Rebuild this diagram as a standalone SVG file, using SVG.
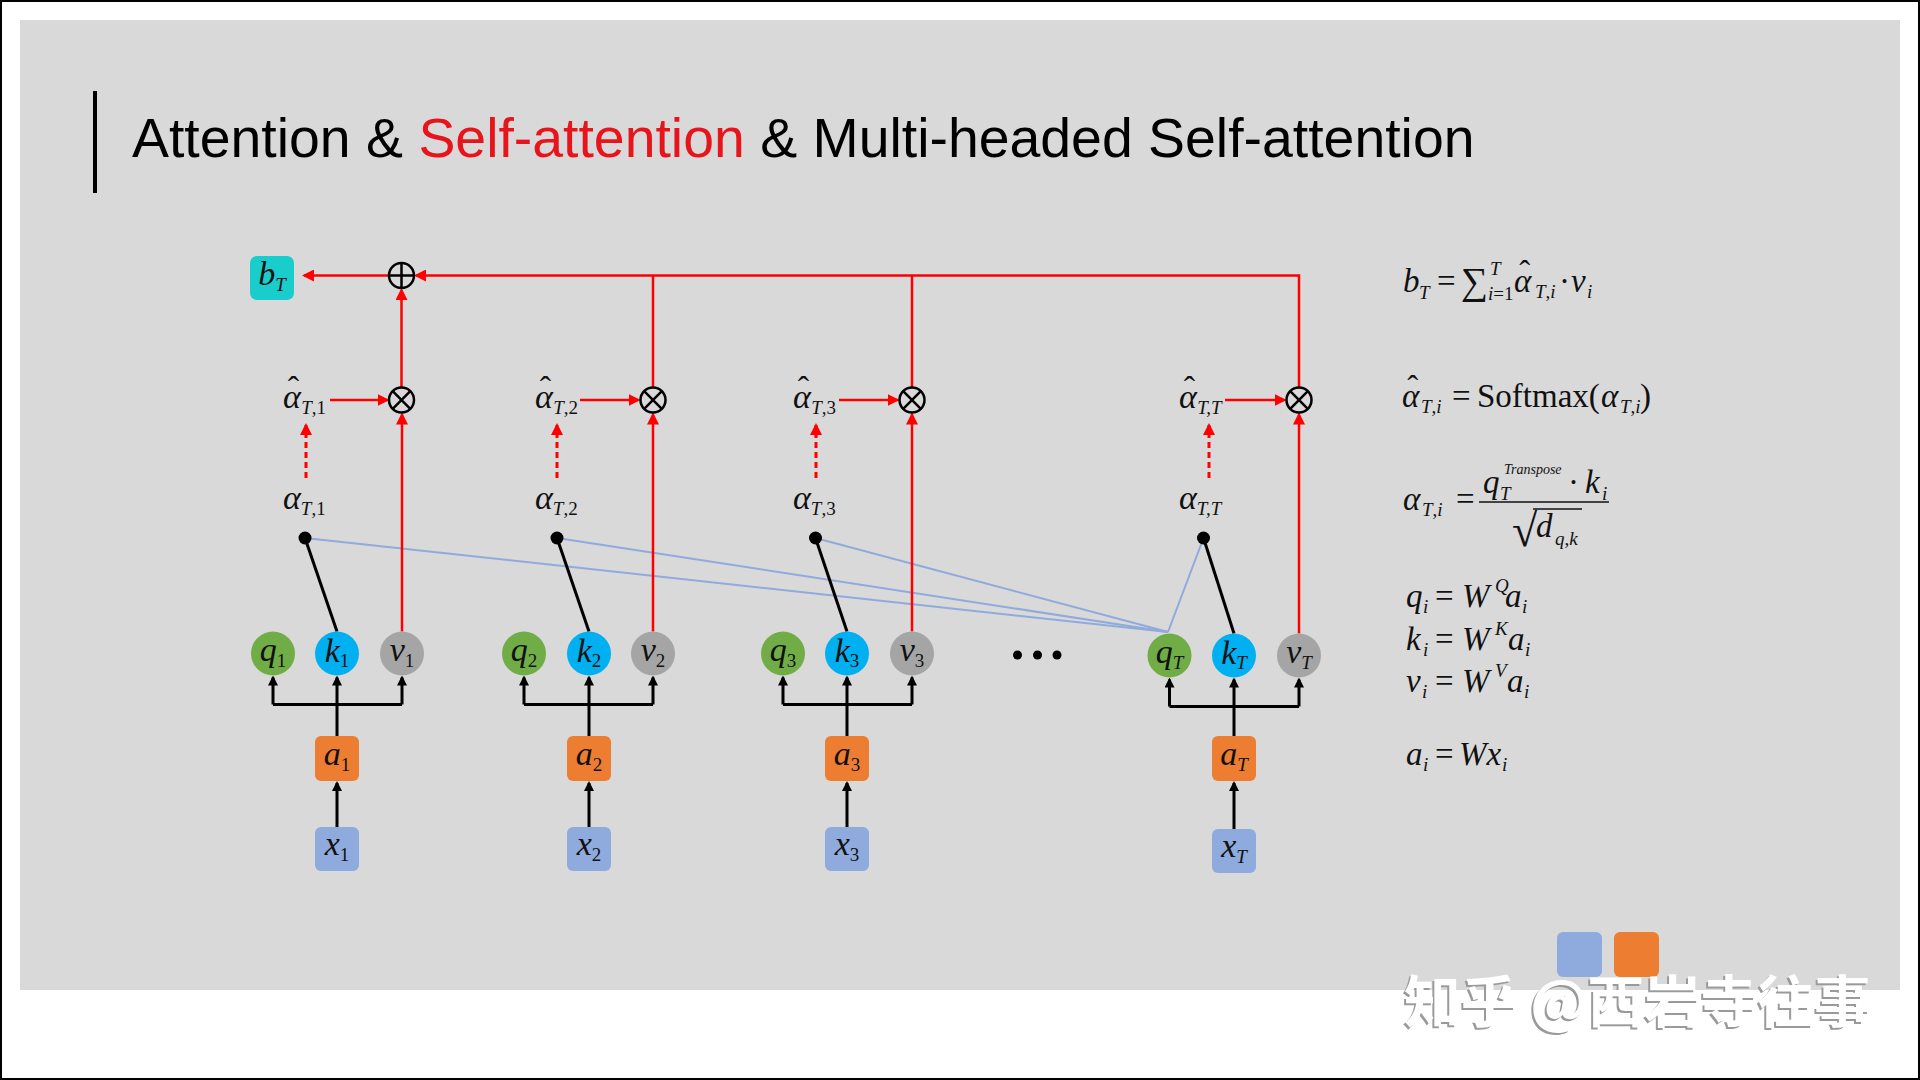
<svg xmlns="http://www.w3.org/2000/svg" width="1920" height="1080" viewBox="0 0 1920 1080">
<style>
.ttl{font-family:"Liberation Sans",Arial,sans-serif;font-size:55.4px;fill:#000}
.red{fill:#e8141b}
.v{font-family:"Liberation Serif","Times New Roman",serif;font-style:italic;font-size:34px;fill:#111}
.al{font-family:"Liberation Serif","Times New Roman",serif;font-style:italic;font-size:34px;fill:#111}
.sb{font-size:19px}
.ssb{font-size:19px}
.up{font-style:normal}
.eq{font-family:"Liberation Serif","Times New Roman",serif;font-style:italic;font-size:33px;fill:#111}
.lk{stroke:#000;stroke-width:3;fill:none}
.lr{stroke:#f00;stroke-width:2.5;fill:none}
.ld{stroke:#f00;stroke-width:3;fill:none;stroke-dasharray:6 4}
.lb{stroke:#8faadc;stroke-width:2;fill:none}
.op{fill:none;stroke:#000;stroke-width:2.5}
.cq{fill:#70ad47}.ck{fill:#00b0f0}.cv{fill:#a5a5a5}
.ba{fill:#ed7d31}.bx{fill:#8faadc}
.wm{font-family:"Noto Sans CJK SC","Noto Sans",sans-serif;font-size:56px;font-weight:bold}
</style>
<defs>
<marker id="ak" markerUnits="userSpaceOnUse" markerWidth="10" markerHeight="10" refX="8" refY="5" orient="auto"><path d="M0,0 L10,5 L0,10 z" fill="#000"/></marker>
<marker id="ar" markerUnits="userSpaceOnUse" markerWidth="12" markerHeight="12" refX="10" refY="6" orient="auto"><path d="M0,0 L12,6 L0,12 z" fill="#f00"/></marker>
</defs>
<rect x="0" y="0" width="1920" height="1080" fill="#fff"/>
<rect x="20" y="20" width="1880" height="970" fill="#d9d9d9"/>
<rect x="1" y="1" width="1918" height="1078" fill="none" stroke="#000" stroke-width="2"/>

<g id="title">
<rect x="93" y="91" width="4" height="102" fill="#000"/>
<text class="ttl" x="132" y="157">Attention &amp; <tspan class="red">Self-attention</tspan> &amp; Multi-headed Self-attention</text>
</g>

<g id="connectors">
<path class="lb" d="M1168,632 L305,538"/>
<path class="lb" d="M1168,632 L557,538"/>
<path class="lb" d="M1168,632 L815.5,538"/>
<path class="lb" d="M1168,632 L1203.5,538"/>
<path class="lk" d="M305,538 L337,631.5" stroke-width="2.5"/>
<path class="lk" d="M557,538 L589,631.5" stroke-width="2.5"/>
<path class="lk" d="M815.5,538 L847,631.5" stroke-width="2.5"/>
<path class="lk" d="M1203.5,538 L1234,633.5" stroke-width="2.5"/>
<path class="lk" d="M337,827 V783" marker-end="url(#ak)"/>
<path class="lk" d="M337,736 V677.5" marker-end="url(#ak)"/>
<path class="lk" d="M273,704.5 H402"/>
<path class="lk" d="M273,704.5 V677.5" marker-end="url(#ak)"/>
<path class="lk" d="M402,704.5 V677.5" marker-end="url(#ak)"/>
<path class="lk" d="M589,827 V783" marker-end="url(#ak)"/>
<path class="lk" d="M589,736 V677.5" marker-end="url(#ak)"/>
<path class="lk" d="M524,704.5 H653"/>
<path class="lk" d="M524,704.5 V677.5" marker-end="url(#ak)"/>
<path class="lk" d="M653,704.5 V677.5" marker-end="url(#ak)"/>
<path class="lk" d="M847,827 V783" marker-end="url(#ak)"/>
<path class="lk" d="M847,736 V677.5" marker-end="url(#ak)"/>
<path class="lk" d="M783,704.5 H912"/>
<path class="lk" d="M783,704.5 V677.5" marker-end="url(#ak)"/>
<path class="lk" d="M912,704.5 V677.5" marker-end="url(#ak)"/>
<path class="lk" d="M1234,829 V783" marker-end="url(#ak)"/>
<path class="lk" d="M1234,736 V679.5" marker-end="url(#ak)"/>
<path class="lk" d="M1169.5,706.5 H1299"/>
<path class="lk" d="M1169.5,706.5 V679.5" marker-end="url(#ak)"/>
<path class="lk" d="M1299,706.5 V679.5" marker-end="url(#ak)"/>
<path class="lr" d="M402,631.5 V414.5" marker-end="url(#ar)"/>
<path class="lr" d="M653,631.5 V414.5" marker-end="url(#ar)"/>
<path class="lr" d="M912,631.5 V414.5" marker-end="url(#ar)"/>
<path class="lr" d="M1299,633.5 V414.5" marker-end="url(#ar)"/>
<path class="lr" d="M330,400 H387.5" marker-end="url(#ar)"/>
<path class="lr" d="M580,400 H638.5" marker-end="url(#ar)"/>
<path class="lr" d="M839,400 H897.5" marker-end="url(#ar)"/>
<path class="lr" d="M1225,400 H1284.5" marker-end="url(#ar)"/>
<path class="ld" d="M306,478 V425" marker-end="url(#ar)"/>
<path class="ld" d="M557,478 V425" marker-end="url(#ar)"/>
<path class="ld" d="M816,478 V425" marker-end="url(#ar)"/>
<path class="ld" d="M1209,478 V425" marker-end="url(#ar)"/>
<path class="lr" d="M401.5,387.5 V290" marker-end="url(#ar)"/>
<path class="lr" d="M653,387.5 V275.5"/>
<path class="lr" d="M912,387.5 V275.5"/>
<path class="lr" d="M1299,387.5 V275.5 H416" marker-end="url(#ar)"/>
<path class="lr" d="M389,275.5 H304" marker-end="url(#ar)"/>
</g>

<g id="bT">
<rect x="250" y="256" width="44" height="44" rx="7" fill="#19cdcd"/>
<text class="v" x="272" y="285" text-anchor="middle">b<tspan class="sb" dy="6">T</tspan></text>
</g>
<g id="sum"><circle class="op" cx="401.5" cy="275.5" r="12.5"/><path class="op" d="M389,275.5 H414 M401.5,263 V288"/></g>
<g id="mul1"><circle class="op" cx="401.5" cy="400" r="12.5"/><path class="op" d="M392.7,391.2 L410.3,408.8 M410.3,391.2 L392.7,408.8"/></g>
<g id="mul2"><circle class="op" cx="653" cy="400" r="12.5"/><path class="op" d="M644.2,391.2 L661.8,408.8 M661.8,391.2 L644.2,408.8"/></g>
<g id="mul3"><circle class="op" cx="912" cy="400" r="12.5"/><path class="op" d="M903.2,391.2 L920.8,408.8 M920.8,391.2 L903.2,408.8"/></g>
<g id="mulT"><circle class="op" cx="1299" cy="400" r="12.5"/><path class="op" d="M1290.2,391.2 L1307.8,408.8 M1307.8,391.2 L1290.2,408.8"/></g>

<g id="ahat1"><text class="al" x="283" y="408">α<tspan class="up" dx="-13" dy="-8">ˆ</tspan><tspan class="sb" dx="2" dy="14">T<tspan class="up">,1</tspan></tspan></text></g>
<g id="ahat2"><text class="al" x="535" y="408">α<tspan class="up" dx="-13" dy="-8">ˆ</tspan><tspan class="sb" dx="2" dy="14">T<tspan class="up">,2</tspan></tspan></text></g>
<g id="ahat3"><text class="al" x="793" y="408">α<tspan class="up" dx="-13" dy="-8">ˆ</tspan><tspan class="sb" dx="2" dy="14">T<tspan class="up">,3</tspan></tspan></text></g>
<g id="ahatT"><text class="al" x="1179" y="408">α<tspan class="up" dx="-13" dy="-8">ˆ</tspan><tspan class="sb" dx="2" dy="14">T,T</tspan></text></g>
<g id="alpha1"><text class="al" x="283" y="509">α<tspan class="sb" dy="6">T<tspan class="up">,1</tspan></tspan></text><circle cx="305" cy="538" r="6.5"/></g>
<g id="alpha2"><text class="al" x="535" y="509">α<tspan class="sb" dy="6">T<tspan class="up">,2</tspan></tspan></text><circle cx="557" cy="538" r="6.5"/></g>
<g id="alpha3"><text class="al" x="793" y="509">α<tspan class="sb" dy="6">T<tspan class="up">,3</tspan></tspan></text><circle cx="815.5" cy="538" r="6.5"/></g>
<g id="alphaT"><text class="al" x="1179" y="509">α<tspan class="sb" dy="6">T,T</tspan></text><circle cx="1203.5" cy="538" r="6.5"/></g>

<g id="q1"><circle class="cq" cx="273" cy="653.5" r="22"/><text class="v" x="273" y="661" text-anchor="middle">q<tspan class="sb up" dy="6">1</tspan></text></g>
<g id="k1"><circle class="ck" cx="337" cy="653.5" r="22"/><text class="v" x="337" y="662" text-anchor="middle">k<tspan class="sb up" dy="5">1</tspan></text></g>
<g id="v1"><circle class="cv" cx="402" cy="653.5" r="22"/><text class="v" x="402" y="661" text-anchor="middle">v<tspan class="sb up" dy="6">1</tspan></text></g>
<g id="a1"><rect class="ba" x="315" y="736" width="44" height="45" rx="6"/><text class="v" x="337" y="765" text-anchor="middle">a<tspan class="sb up" dy="6">1</tspan></text></g>
<g id="x1"><rect class="bx" x="315" y="827" width="44" height="44" rx="6"/><text class="v" x="337" y="855" text-anchor="middle">x<tspan class="sb up" dy="6">1</tspan></text></g>

<g id="q2"><circle class="cq" cx="524" cy="653.5" r="22"/><text class="v" x="524" y="661" text-anchor="middle">q<tspan class="sb up" dy="6">2</tspan></text></g>
<g id="k2"><circle class="ck" cx="589" cy="653.5" r="22"/><text class="v" x="589" y="662" text-anchor="middle">k<tspan class="sb up" dy="5">2</tspan></text></g>
<g id="v2"><circle class="cv" cx="653" cy="653.5" r="22"/><text class="v" x="653" y="661" text-anchor="middle">v<tspan class="sb up" dy="6">2</tspan></text></g>
<g id="a2"><rect class="ba" x="567" y="736" width="44" height="45" rx="6"/><text class="v" x="589" y="765" text-anchor="middle">a<tspan class="sb up" dy="6">2</tspan></text></g>
<g id="x2"><rect class="bx" x="567" y="827" width="44" height="44" rx="6"/><text class="v" x="589" y="855" text-anchor="middle">x<tspan class="sb up" dy="6">2</tspan></text></g>

<g id="q3"><circle class="cq" cx="783" cy="653.5" r="22"/><text class="v" x="783" y="661" text-anchor="middle">q<tspan class="sb up" dy="6">3</tspan></text></g>
<g id="k3"><circle class="ck" cx="847" cy="653.5" r="22"/><text class="v" x="847" y="662" text-anchor="middle">k<tspan class="sb up" dy="5">3</tspan></text></g>
<g id="v3"><circle class="cv" cx="912" cy="653.5" r="22"/><text class="v" x="912" y="661" text-anchor="middle">v<tspan class="sb up" dy="6">3</tspan></text></g>
<g id="a3"><rect class="ba" x="825" y="736" width="44" height="45" rx="6"/><text class="v" x="847" y="765" text-anchor="middle">a<tspan class="sb up" dy="6">3</tspan></text></g>
<g id="x3"><rect class="bx" x="825" y="827" width="44" height="44" rx="6"/><text class="v" x="847" y="855" text-anchor="middle">x<tspan class="sb up" dy="6">3</tspan></text></g>

<g id="ellipsis"><circle cx="1017.5" cy="655" r="4.5"/><circle cx="1037.5" cy="655" r="4.5"/><circle cx="1057" cy="655" r="4.5"/></g>

<g id="qT"><circle class="cq" cx="1169.5" cy="655.5" r="22"/><text class="v" x="1169.5" y="663" text-anchor="middle">q<tspan class="sb" dy="6">T</tspan></text></g>
<g id="kT"><circle class="ck" cx="1234" cy="655.5" r="22"/><text class="v" x="1234" y="664" text-anchor="middle">k<tspan class="sb" dy="5">T</tspan></text></g>
<g id="vT"><circle class="cv" cx="1299" cy="655.5" r="22"/><text class="v" x="1299" y="663" text-anchor="middle">v<tspan class="sb" dy="6">T</tspan></text></g>
<g id="aT"><rect class="ba" x="1212" y="736" width="44" height="45" rx="6"/><text class="v" x="1234" y="765" text-anchor="middle">a<tspan class="sb" dy="6">T</tspan></text></g>
<g id="xT"><rect class="bx" x="1212" y="829" width="44" height="44" rx="6"/><text class="v" x="1234" y="857" text-anchor="middle">x<tspan class="sb" dy="6">T</tspan></text></g>

<g id="equations">
<text class="eq" x="1403" y="292">b<tspan class="ssb" x="1419" y="299">T</tspan><tspan class="up" x="1437" y="292">=</tspan><tspan class="up" x="1461" y="294" font-size="38">∑</tspan><tspan class="ssb" x="1490" y="275" font-size="16">T</tspan><tspan class="ssb" x="1488" y="300" font-size="17">i<tspan class="up">=1</tspan></tspan><tspan x="1514" y="292">α</tspan><tspan class="up" dx="-12" dy="-8">ˆ</tspan><tspan class="ssb" x="1535" y="298">T<tspan class="up">,</tspan>i</tspan><tspan class="up" x="1559" y="292">·</tspan><tspan x="1571" y="292">v</tspan><tspan class="ssb" x="1587" y="298">i</tspan></text>

<text class="eq" x="1402" y="407">α<tspan class="up" dx="-12" dy="-8">ˆ</tspan><tspan class="ssb" x="1421" y="413">T<tspan class="up">,</tspan>i</tspan><tspan class="up" x="1452" y="407">=</tspan><tspan class="up" x="1477" y="407">Softmax(</tspan><tspan x="1601" y="407">α</tspan><tspan class="ssb" x="1620" y="413">T<tspan class="up">,</tspan>i</tspan><tspan class="up" x="1640" y="407">)</tspan></text>

<text class="eq" x="1403" y="510">α<tspan class="ssb" x="1422" y="516">T<tspan class="up">,</tspan>i</tspan><tspan class="up" x="1456" y="510">=</tspan><tspan x="1483" y="493">q</tspan><tspan class="ssb" x="1500" y="500">T</tspan><tspan font-size="14" x="1504" y="474">Transpose</tspan><tspan class="up" x="1568" y="493">·</tspan><tspan x="1585" y="493">k</tspan><tspan class="ssb" x="1602" y="500">i</tspan><tspan class="up" x="1512" y="546" font-size="46">√</tspan><tspan x="1536" y="537">d</tspan><tspan class="ssb" x="1555" y="545">q<tspan class="up">,</tspan>k</tspan></text>
<path d="M1479,502 H1609" stroke="#111" stroke-width="1.5"/>
<path d="M1533,509 H1582" stroke="#111" stroke-width="1.5"/>

<text class="eq" x="1406" y="607">q<tspan class="ssb" x="1423" y="613">i</tspan><tspan class="up" x="1435" y="607">=</tspan><tspan x="1462" y="607">W</tspan><tspan class="ssb" x="1495" y="592" font-size="16">Q</tspan><tspan x="1505" y="607">a</tspan><tspan class="ssb" x="1522" y="613">i</tspan></text>
<text class="eq" x="1406" y="650">k<tspan class="ssb" x="1423" y="656">i</tspan><tspan class="up" x="1435" y="650">=</tspan><tspan x="1462" y="650">W</tspan><tspan class="ssb" x="1495" y="635" font-size="16">K</tspan><tspan x="1508" y="650">a</tspan><tspan class="ssb" x="1525" y="656">i</tspan></text>
<text class="eq" x="1406" y="692">v<tspan class="ssb" x="1422" y="698">i</tspan><tspan class="up" x="1435" y="692">=</tspan><tspan x="1462" y="692">W</tspan><tspan class="ssb" x="1495" y="677" font-size="16">V</tspan><tspan x="1507" y="692">a</tspan><tspan class="ssb" x="1524" y="698">i</tspan></text>
<text class="eq" x="1406" y="765">a<tspan class="ssb" x="1423" y="771">i</tspan><tspan class="up" x="1435" y="765">=</tspan><tspan x="1459" y="765">Wx</tspan><tspan class="ssb" x="1502" y="771">i</tspan></text>
</g>

<g id="watermark">
<rect x="1557" y="932" width="45" height="45" rx="6" fill="#8faadc"/>
<rect x="1614" y="932" width="45" height="45" rx="6" fill="#ed7d31"/>
<text class="wm" x="1402" y="1024" fill="#9a9a9a" textLength="467" lengthAdjust="spacingAndGlyphs">知乎 @西岩寺往事</text>
<text class="wm" x="1404" y="1022" fill="#ffffff" textLength="467" lengthAdjust="spacingAndGlyphs">知乎 @西岩寺往事</text>
</g>
</svg>
